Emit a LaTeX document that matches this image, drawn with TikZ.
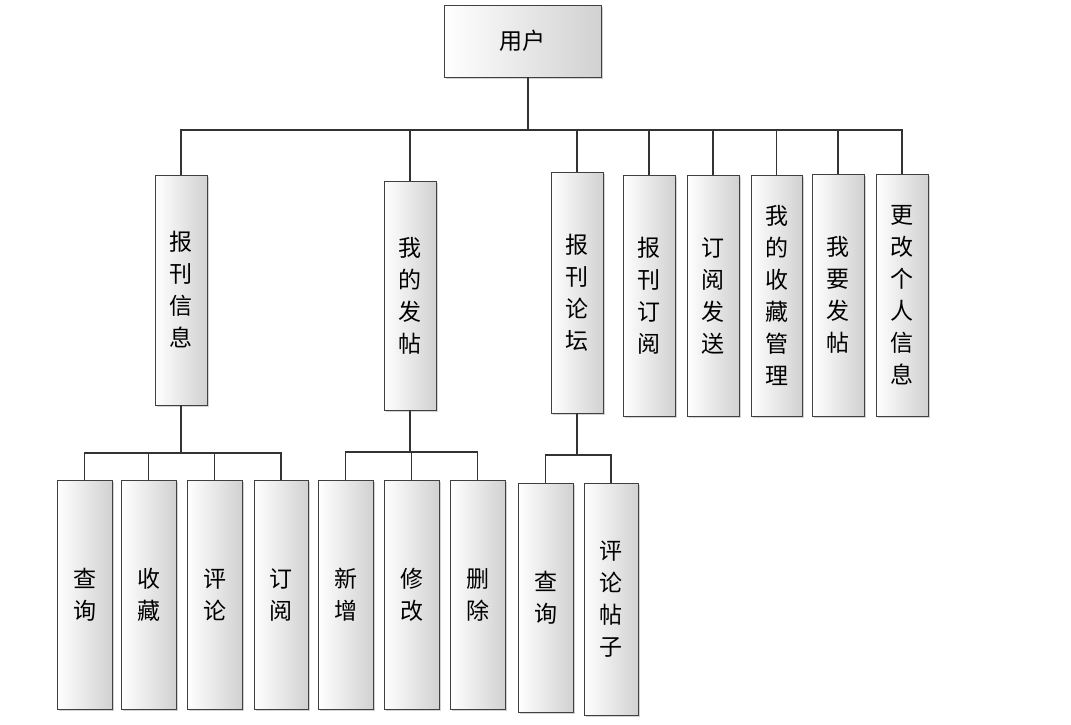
\documentclass[tikz,border=0pt]{standalone}
\usepackage{fontspec}
\setmainfont{Noto Sans CJK SC}
\usetikzlibrary{shadows}
\begin{document}
\begin{tikzpicture}[x=1pt,y=-1pt,
  box/.style={draw=black!75,line width=0.9pt,left color=white,right color=black!18,
    drop shadow={shadow xshift=2pt,shadow yshift=-2pt,opacity=0.35},
    align=center,font=\fontsize{23}{32}\selectfont,inner sep=0pt},
  ln/.style={draw=black!80,line width=1.6pt}]
\useasboundingbox (0,0) rectangle (1071,724);
\newcommand\bx[6]{\node[box,minimum width={#4-#2},minimum height={#5-#3}] (#1) at ({(#2+#4)/2},{(#3+#5)/2}) {#6};}
\bx{u}{444}{5}{601}{77}{用户}
\bx{a}{155}{175}{207}{405}{报\\刊\\信\\息}
\bx{b}{384}{181}{436}{410}{我\\的\\发\\帖}
\bx{c}{551}{172}{603}{413}{报\\刊\\论\\坛}
\bx{d}{623}{175}{675}{416}{报\\刊\\订\\阅}
\bx{e}{687}{175}{739}{416}{订\\阅\\发\\送}
\bx{f}{751}{175}{802}{416}{我\\的\\收\\藏\\管\\理}
\bx{g}{812}{174}{864}{416}{我\\要\\发\\帖}
\bx{h}{876}{174}{928}{416}{更\\改\\个\\人\\信\\息}
\bx{a1}{57}{480}{112}{709}{查\\询}
\bx{a2}{121}{480}{176}{709}{收\\藏}
\bx{a3}{187}{480}{242}{709}{评\\论}
\bx{a4}{254}{480}{308}{709}{订\\阅}
\bx{b1}{318}{480}{373}{709}{新\\增}
\bx{b2}{384}{480}{439}{709}{修\\改}
\bx{b3}{450}{480}{505}{709}{删\\除}
\bx{c1}{518}{483}{573}{712}{查\\询}
\bx{c2}{584}{483}{638}{715}{评\\论\\帖\\子}
\coordinate (ub) at (528,130);
\draw[ln] (528,77) -- (ub);
\foreach \n in {a,b,c,d,e,f,g,h} \draw[ln] (\n.north) |- (ub);
\foreach \n in {a1,a2,a3,a4} \draw[ln] (\n.north) |- (a.south |- 0,453) -- (a.south);
\foreach \n in {b1,b2,b3} \draw[ln] (\n.north) |- (b.south |- 0,452) -- (b.south);
\foreach \n in {c1,c2} \draw[ln] (\n.north) |- (c.south |- 0,455) -- (c.south);
\end{tikzpicture}
\end{document}
